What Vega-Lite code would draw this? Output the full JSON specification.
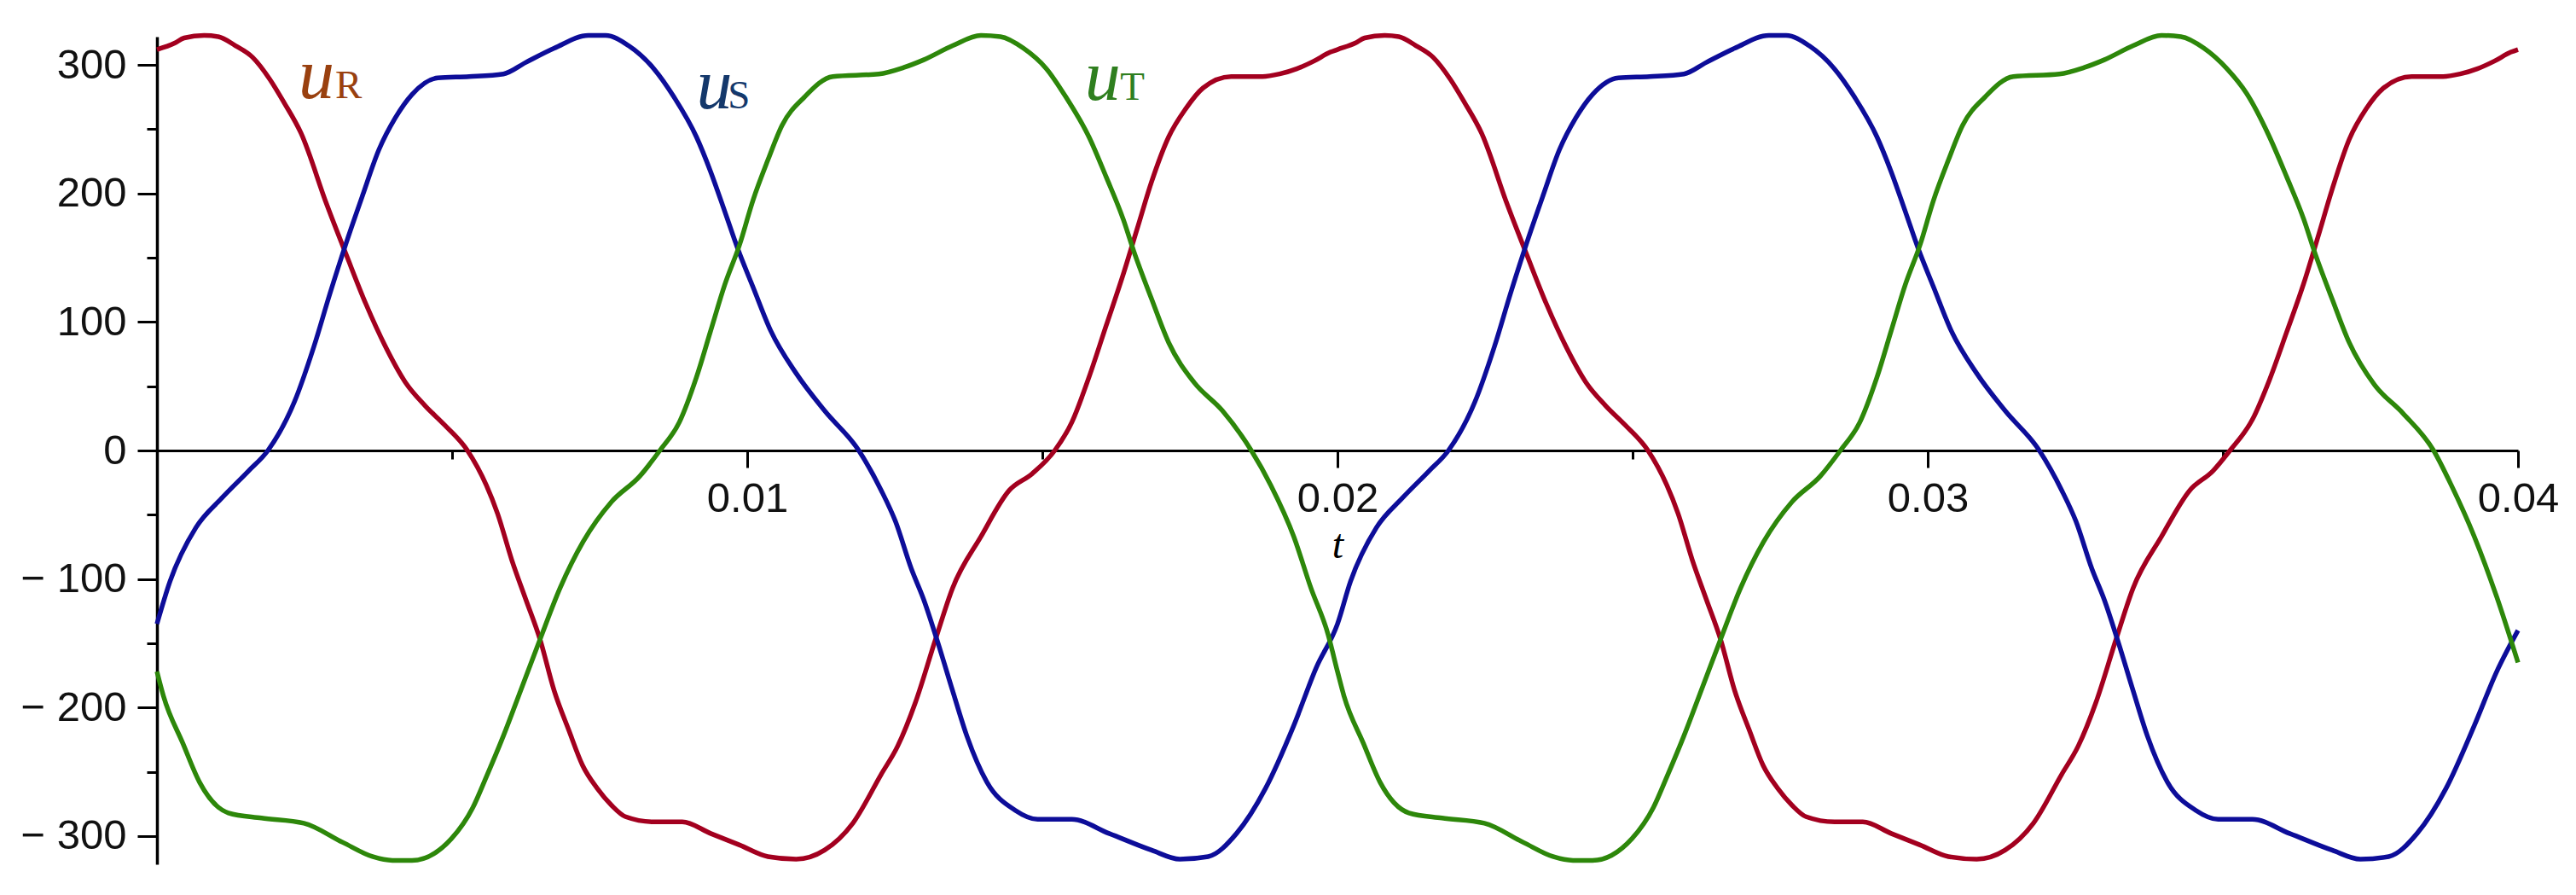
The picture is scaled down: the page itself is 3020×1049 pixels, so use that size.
{
  "$schema": "https://vega.github.io/schema/vega-lite/v6.json",
  "width": 2768,
  "height": 970,
  "autosize": {"type": "none"},
  "padding": {"left": 184, "top": 43, "right": 68, "bottom": 36},
  "background": "white",
  "config": {"view": {"stroke": null}},
  "datasets": {
    "waves": [
      {"t": 0, "u": 312, "p": "R"}, {"t": 0.0003, "u": 317, "p": "R"}, {"t": 0.00046, "u": 321, "p": "R"}, {"t": 0.0008, "u": 323, "p": "R"},
      {"t": 0.00104, "u": 322, "p": "R"}, {"t": 0.00133, "u": 315, "p": "R"}, {"t": 0.00162, "u": 306, "p": "R"}, {"t": 0.00191, "u": 289, "p": "R"},
      {"t": 0.00215, "u": 271, "p": "R"}, {"t": 0.00244, "u": 247, "p": "R"},
      {"t": 0.00288, "u": 191, "p": "R"}, {"t": 0.00321, "u": 152, "p": "R"}, {"t": 0.00354, "u": 114, "p": "R"}, {"t": 0.00387, "u": 81, "p": "R"},
      {"t": 0.00421, "u": 53, "p": "R"}, {"t": 0.00454, "u": 35, "p": "R"}, {"t": 0.00487, "u": 20, "p": "R"}, {"t": 0.00526, "u": 0, "p": "R"},
      {"t": 0.00558, "u": -27, "p": "R"}, {"t": 0.00577, "u": -49, "p": "R"}, {"t": 0.00601, "u": -85, "p": "R"}, {"t": 0.00625, "u": -116, "p": "R"},
      {"t": 0.00649, "u": -147, "p": "R"}, {"t": 0.00673, "u": -187, "p": "R"}, {"t": 0.00698, "u": -218, "p": "R"}, {"t": 0.00721, "u": -245, "p": "R"},
      {"t": 0.00746, "u": -263, "p": "R"}, {"t": 0.0077, "u": -276, "p": "R"}, {"t": 0.00794, "u": -285, "p": "R"}, {"t": 0.00842, "u": -289, "p": "R"},
      {"t": 0.0089, "u": -289, "p": "R"}, {"t": 0.00938, "u": -298, "p": "R"}, {"t": 0.00987, "u": -307, "p": "R"}, {"t": 0.01035, "u": -316, "p": "R"},
      {"t": 0.01083, "u": -318, "p": "R"}, {"t": 0.01131, "u": -311, "p": "R"}, {"t": 0.01179, "u": -290, "p": "R"}, {"t": 0.01227, "u": -252, "p": "R"},
      {"t": 0.01255, "u": -230, "p": "R"}, {"t": 0.01285, "u": -196, "p": "R"}, {"t": 0.01319, "u": -147, "p": "R"}, {"t": 0.01348, "u": -107, "p": "R"},
      {"t": 0.01396, "u": -67, "p": "R"}, {"t": 0.01444, "u": -31, "p": "R"}, {"t": 0.01483, "u": -18, "p": "R"}, {"t": 0.01521, "u": 0, "p": "R"},
      {"t": 0.0155, "u": 22, "p": "R"}, {"t": 0.01579, "u": 57, "p": "R"}, {"t": 0.01608, "u": 97, "p": "R"}, {"t": 0.01637, "u": 137, "p": "R"},
      {"t": 0.01661, "u": 173, "p": "R"}, {"t": 0.01685, "u": 209, "p": "R"}, {"t": 0.01714, "u": 244, "p": "R"}, {"t": 0.01743, "u": 266, "p": "R"},
      {"t": 0.01772, "u": 282, "p": "R"}, {"t": 0.0182, "u": 291, "p": "R"}, {"t": 0.01873, "u": 291, "p": "R"}, {"t": 0.01902, "u": 293, "p": "R"},
      {"t": 0.01931, "u": 297, "p": "R"}, {"t": 0.0196, "u": 303, "p": "R"}, {"t": 0.01988, "u": 310, "p": "R"},
      {"t": 0.02, "u": 312, "p": "R"}, {"t": 0.0203, "u": 317, "p": "R"}, {"t": 0.02046, "u": 321, "p": "R"}, {"t": 0.0208, "u": 323, "p": "R"},
      {"t": 0.02104, "u": 322, "p": "R"}, {"t": 0.02133, "u": 315, "p": "R"}, {"t": 0.02162, "u": 306, "p": "R"}, {"t": 0.02191, "u": 289, "p": "R"},
      {"t": 0.02215, "u": 271, "p": "R"}, {"t": 0.02244, "u": 247, "p": "R"},
      {"t": 0.02288, "u": 191, "p": "R"}, {"t": 0.02321, "u": 152, "p": "R"}, {"t": 0.02354, "u": 114, "p": "R"}, {"t": 0.02387, "u": 81, "p": "R"},
      {"t": 0.02421, "u": 53, "p": "R"}, {"t": 0.02454, "u": 35, "p": "R"}, {"t": 0.02487, "u": 20, "p": "R"}, {"t": 0.02526, "u": 0, "p": "R"},
      {"t": 0.02558, "u": -27, "p": "R"}, {"t": 0.02577, "u": -49, "p": "R"}, {"t": 0.02601, "u": -85, "p": "R"}, {"t": 0.02625, "u": -116, "p": "R"},
      {"t": 0.02649, "u": -147, "p": "R"}, {"t": 0.02673, "u": -187, "p": "R"}, {"t": 0.02698, "u": -218, "p": "R"}, {"t": 0.02721, "u": -245, "p": "R"},
      {"t": 0.02746, "u": -263, "p": "R"}, {"t": 0.0277, "u": -276, "p": "R"}, {"t": 0.02794, "u": -285, "p": "R"}, {"t": 0.02842, "u": -289, "p": "R"},
      {"t": 0.0289, "u": -289, "p": "R"}, {"t": 0.02938, "u": -298, "p": "R"}, {"t": 0.02987, "u": -307, "p": "R"}, {"t": 0.03035, "u": -316, "p": "R"},
      {"t": 0.03083, "u": -318, "p": "R"}, {"t": 0.03131, "u": -311, "p": "R"}, {"t": 0.03179, "u": -290, "p": "R"}, {"t": 0.03227, "u": -252, "p": "R"},
      {"t": 0.03255, "u": -230, "p": "R"}, {"t": 0.03285, "u": -196, "p": "R"}, {"t": 0.03319, "u": -147, "p": "R"}, {"t": 0.03348, "u": -107, "p": "R"},
      {"t": 0.03396, "u": -67, "p": "R"}, {"t": 0.03444, "u": -31, "p": "R"}, {"t": 0.03483, "u": -16, "p": "R"}, {"t": 0.03512, "u": 0, "p": "R"},
      {"t": 0.0355, "u": 24, "p": "R"}, {"t": 0.03579, "u": 55, "p": "R"}, {"t": 0.03608, "u": 92, "p": "R"}, {"t": 0.03637, "u": 130, "p": "R"},
      {"t": 0.03661, "u": 166, "p": "R"}, {"t": 0.03685, "u": 203, "p": "R"}, {"t": 0.03714, "u": 242, "p": "R"}, {"t": 0.03743, "u": 266, "p": "R"},
      {"t": 0.03772, "u": 282, "p": "R"}, {"t": 0.0382, "u": 291, "p": "R"}, {"t": 0.03873, "u": 291, "p": "R"}, {"t": 0.03902, "u": 293, "p": "R"},
      {"t": 0.03931, "u": 297, "p": "R"}, {"t": 0.0396, "u": 303, "p": "R"}, {"t": 0.03988, "u": 310, "p": "R"}, {"t": 0.04, "u": 312, "p": "R"},

      {"t": 0, "u": -135, "p": "S"}, {"t": 0.00022, "u": -102, "p": "S"}, {"t": 0.00066, "u": -60, "p": "S"}, {"t": 0.0011, "u": -37, "p": "S"},
      {"t": 0.00155, "u": -16, "p": "S"}, {"t": 0.00188, "u": 0, "p": "S"}, {"t": 0.00233, "u": 38, "p": "S"}, {"t": 0.00266, "u": 81, "p": "S"},
      {"t": 0.00293, "u": 122, "p": "S"}, {"t": 0.00321, "u": 162, "p": "S"}, {"t": 0.00348, "u": 198, "p": "S"}, {"t": 0.00376, "u": 234, "p": "S"},
      {"t": 0.00404, "u": 259, "p": "S"}, {"t": 0.00432, "u": 277, "p": "S"}, {"t": 0.00476, "u": 290, "p": "S"}, {"t": 0.00529, "u": 291, "p": "S"},
      {"t": 0.00587, "u": 293, "p": "S"}, {"t": 0.00625, "u": 302, "p": "S"}, {"t": 0.00673, "u": 313, "p": "S"}, {"t": 0.00731, "u": 323, "p": "S"},
      {"t": 0.0076, "u": 323, "p": "S"}, {"t": 0.00799, "u": 315, "p": "S"}, {"t": 0.00842, "u": 297, "p": "S"}, {"t": 0.00876, "u": 275, "p": "S"},
      {"t": 0.00914, "u": 244, "p": "S"}, {"t": 0.00938, "u": 217, "p": "S"}, {"t": 0.00962, "u": 186, "p": "S"}, {"t": 0.00984, "u": 157, "p": "S"},
      {"t": 0.0101, "u": 127, "p": "S"}, {"t": 0.0104, "u": 93, "p": "S"}, {"t": 0.01083, "u": 60, "p": "S"}, {"t": 0.01131, "u": 31, "p": "S"},
      {"t": 0.01189, "u": 0, "p": "S"}, {"t": 0.01227, "u": -31, "p": "S"}, {"t": 0.01251, "u": -55, "p": "S"}, {"t": 0.01278, "u": -92, "p": "S"},
      {"t": 0.01299, "u": -116, "p": "S"}, {"t": 0.01324, "u": -151, "p": "S"}, {"t": 0.01348, "u": -187, "p": "S"}, {"t": 0.01372, "u": -222, "p": "S"},
      {"t": 0.01406, "u": -258, "p": "S"}, {"t": 0.01454, "u": -280, "p": "S"}, {"t": 0.01492, "u": -287, "p": "S"}, {"t": 0.0155, "u": -287, "p": "S"},
      {"t": 0.01613, "u": -298, "p": "S"}, {"t": 0.01685, "u": -311, "p": "S"}, {"t": 0.01733, "u": -318, "p": "S"}, {"t": 0.01781, "u": -316, "p": "S"},
      {"t": 0.01829, "u": -298, "p": "S"}, {"t": 0.01878, "u": -263, "p": "S"}, {"t": 0.01926, "u": -214, "p": "S"}, {"t": 0.01964, "u": -169, "p": "S"},
      {"t": 0.02, "u": -135, "p": "S"}, {"t": 0.02022, "u": -102, "p": "S"}, {"t": 0.02066, "u": -60, "p": "S"}, {"t": 0.0211, "u": -37, "p": "S"},
      {"t": 0.02155, "u": -16, "p": "S"}, {"t": 0.02188, "u": 0, "p": "S"}, {"t": 0.02233, "u": 38, "p": "S"}, {"t": 0.02266, "u": 81, "p": "S"},
      {"t": 0.02293, "u": 122, "p": "S"}, {"t": 0.02321, "u": 162, "p": "S"}, {"t": 0.02348, "u": 198, "p": "S"}, {"t": 0.02376, "u": 234, "p": "S"},
      {"t": 0.02404, "u": 259, "p": "S"}, {"t": 0.02432, "u": 277, "p": "S"}, {"t": 0.02476, "u": 290, "p": "S"}, {"t": 0.02529, "u": 291, "p": "S"},
      {"t": 0.02587, "u": 293, "p": "S"}, {"t": 0.02625, "u": 302, "p": "S"}, {"t": 0.02673, "u": 313, "p": "S"}, {"t": 0.02731, "u": 323, "p": "S"},
      {"t": 0.0276, "u": 323, "p": "S"}, {"t": 0.02799, "u": 315, "p": "S"}, {"t": 0.02842, "u": 297, "p": "S"}, {"t": 0.02876, "u": 275, "p": "S"},
      {"t": 0.02914, "u": 244, "p": "S"}, {"t": 0.02938, "u": 217, "p": "S"}, {"t": 0.02962, "u": 186, "p": "S"}, {"t": 0.02984, "u": 157, "p": "S"},
      {"t": 0.0301, "u": 127, "p": "S"}, {"t": 0.0304, "u": 93, "p": "S"}, {"t": 0.03083, "u": 60, "p": "S"}, {"t": 0.03131, "u": 31, "p": "S"},
      {"t": 0.03189, "u": 0, "p": "S"}, {"t": 0.03227, "u": -31, "p": "S"}, {"t": 0.03251, "u": -55, "p": "S"}, {"t": 0.03278, "u": -92, "p": "S"},
      {"t": 0.03299, "u": -116, "p": "S"}, {"t": 0.03324, "u": -151, "p": "S"}, {"t": 0.03348, "u": -187, "p": "S"}, {"t": 0.03372, "u": -222, "p": "S"},
      {"t": 0.03406, "u": -258, "p": "S"}, {"t": 0.03454, "u": -280, "p": "S"}, {"t": 0.03492, "u": -287, "p": "S"}, {"t": 0.0355, "u": -287, "p": "S"},
      {"t": 0.03613, "u": -298, "p": "S"}, {"t": 0.03685, "u": -311, "p": "S"}, {"t": 0.03733, "u": -318, "p": "S"}, {"t": 0.03781, "u": -316, "p": "S"},
      {"t": 0.03829, "u": -298, "p": "S"}, {"t": 0.03878, "u": -263, "p": "S"}, {"t": 0.03926, "u": -214, "p": "S"}, {"t": 0.03964, "u": -172, "p": "S"},
      {"t": 0.04, "u": -140, "p": "S"},

      {"t": 0, "u": -172, "p": "T"}, {"t": 0.00011, "u": -191, "p": "T"}, {"t": 0.00044, "u": -228, "p": "T"}, {"t": 0.00072, "u": -258, "p": "T"},
      {"t": 0.00121, "u": -282, "p": "T"}, {"t": 0.00177, "u": -286, "p": "T"}, {"t": 0.00249, "u": -290, "p": "T"}, {"t": 0.00315, "u": -305, "p": "T"},
      {"t": 0.00365, "u": -316, "p": "T"}, {"t": 0.00399, "u": -319, "p": "T"}, {"t": 0.00432, "u": -319, "p": "T"}, {"t": 0.00499, "u": -302, "p": "T"},
      {"t": 0.00535, "u": -278, "p": "T"}, {"t": 0.00558, "u": -254, "p": "T"}, {"t": 0.00587, "u": -222, "p": "T"}, {"t": 0.00616, "u": -187, "p": "T"},
      {"t": 0.00649, "u": -147, "p": "T"}, {"t": 0.00683, "u": -107, "p": "T"}, {"t": 0.00722, "u": -71, "p": "T"}, {"t": 0.0077, "u": -40, "p": "T"},
      {"t": 0.00818, "u": -20, "p": "T"}, {"t": 0.00852, "u": 0, "p": "T"}, {"t": 0.00885, "u": 22, "p": "T"}, {"t": 0.00914, "u": 57, "p": "T"},
      {"t": 0.00938, "u": 93, "p": "T"}, {"t": 0.00962, "u": 129, "p": "T"}, {"t": 0.00987, "u": 160, "p": "T"}, {"t": 0.0101, "u": 195, "p": "T"},
      {"t": 0.01035, "u": 226, "p": "T"}, {"t": 0.01059, "u": 253, "p": "T"}, {"t": 0.01097, "u": 275, "p": "T"}, {"t": 0.01145, "u": 291, "p": "T"},
      {"t": 0.01223, "u": 293, "p": "T"}, {"t": 0.01265, "u": 298, "p": "T"}, {"t": 0.01299, "u": 304, "p": "T"}, {"t": 0.01348, "u": 315, "p": "T"},
      {"t": 0.01396, "u": 323, "p": "T"}, {"t": 0.01429, "u": 322, "p": "T"}, {"t": 0.01468, "u": 313, "p": "T"}, {"t": 0.01507, "u": 297, "p": "T"},
      {"t": 0.0154, "u": 275, "p": "T"}, {"t": 0.01579, "u": 244, "p": "T"}, {"t": 0.01608, "u": 213, "p": "T"}, {"t": 0.01637, "u": 180, "p": "T"},
      {"t": 0.01655, "u": 155, "p": "T"}, {"t": 0.01685, "u": 118, "p": "T"}, {"t": 0.01714, "u": 84, "p": "T"}, {"t": 0.01757, "u": 53, "p": "T"},
      {"t": 0.01805, "u": 31, "p": "T"}, {"t": 0.01854, "u": 0, "p": "T"}, {"t": 0.01887, "u": -27, "p": "T"}, {"t": 0.01926, "u": -67, "p": "T"},
      {"t": 0.01955, "u": -107, "p": "T"}, {"t": 0.01984, "u": -143, "p": "T"},
      {"t": 0.02, "u": -172, "p": "T"}, {"t": 0.02011, "u": -191, "p": "T"}, {"t": 0.02044, "u": -228, "p": "T"}, {"t": 0.02072, "u": -258, "p": "T"},
      {"t": 0.02121, "u": -282, "p": "T"}, {"t": 0.02177, "u": -286, "p": "T"}, {"t": 0.02249, "u": -290, "p": "T"}, {"t": 0.02315, "u": -305, "p": "T"},
      {"t": 0.02365, "u": -316, "p": "T"}, {"t": 0.02399, "u": -319, "p": "T"}, {"t": 0.02432, "u": -319, "p": "T"}, {"t": 0.02499, "u": -302, "p": "T"},
      {"t": 0.02535, "u": -278, "p": "T"}, {"t": 0.02558, "u": -254, "p": "T"}, {"t": 0.02587, "u": -222, "p": "T"}, {"t": 0.02616, "u": -187, "p": "T"},
      {"t": 0.02649, "u": -147, "p": "T"}, {"t": 0.02683, "u": -107, "p": "T"}, {"t": 0.02722, "u": -71, "p": "T"}, {"t": 0.0277, "u": -40, "p": "T"},
      {"t": 0.02818, "u": -20, "p": "T"}, {"t": 0.02852, "u": 0, "p": "T"}, {"t": 0.02885, "u": 22, "p": "T"}, {"t": 0.02914, "u": 57, "p": "T"},
      {"t": 0.02938, "u": 93, "p": "T"}, {"t": 0.02962, "u": 129, "p": "T"}, {"t": 0.02987, "u": 160, "p": "T"}, {"t": 0.0301, "u": 195, "p": "T"},
      {"t": 0.03035, "u": 226, "p": "T"}, {"t": 0.03059, "u": 253, "p": "T"}, {"t": 0.03097, "u": 275, "p": "T"}, {"t": 0.03145, "u": 291, "p": "T"},
      {"t": 0.03223, "u": 293, "p": "T"}, {"t": 0.03265, "u": 298, "p": "T"}, {"t": 0.03299, "u": 304, "p": "T"}, {"t": 0.03348, "u": 315, "p": "T"},
      {"t": 0.03396, "u": 323, "p": "T"}, {"t": 0.03429, "u": 322, "p": "T"}, {"t": 0.03468, "u": 313, "p": "T"}, {"t": 0.03507, "u": 297, "p": "T"},
      {"t": 0.0354, "u": 278, "p": "T"}, {"t": 0.03579, "u": 244, "p": "T"}, {"t": 0.03608, "u": 213, "p": "T"}, {"t": 0.03637, "u": 180, "p": "T"},
      {"t": 0.03655, "u": 155, "p": "T"}, {"t": 0.03685, "u": 118, "p": "T"}, {"t": 0.03714, "u": 84, "p": "T"}, {"t": 0.03757, "u": 51, "p": "T"},
      {"t": 0.03805, "u": 29, "p": "T"}, {"t": 0.03857, "u": 0, "p": "T"}, {"t": 0.03887, "u": -27, "p": "T"}, {"t": 0.03926, "u": -67, "p": "T"},
      {"t": 0.03964, "u": -114, "p": "T"}, {"t": 0.04, "u": -165, "p": "T"}
    ],
    "uglyph": [
      {"lab": "R", "t": 0.0024, "u": 274},
      {"lab": "S", "t": 0.00914, "u": 266},
      {"lab": "T", "t": 0.01572, "u": 273}
    ],
    "subs": [
      {"lab": "R", "t": 0.00302, "u": 274},
      {"lab": "S", "t": 0.00967, "u": 266},
      {"lab": "T", "t": 0.01632, "u": 273}
    ]
  },
  "layer": [
    {
      "data": {"name": "waves"},
      "mark": {"type": "line", "interpolate": "monotone", "strokeWidth": 5.5},
      "encoding": {
        "x": {
          "field": "t",
          "type": "quantitative",
          "scale": {"domain": [0, 0.04], "nice": false, "zero": false},
          "axis": {
            "orient": "bottom",
            "offset": -485,
            "values": [0.005, 0.01, 0.015, 0.02, 0.025, 0.03, 0.035, 0.04],
            "labelExpr": "round(datum.value * 1000) % 10 === 0 ? format(datum.value, '.2f') : ''",
            "tickSize": {"condition": {"test": "round(datum.value * 1000) % 10 === 0", "value": 20}, "value": 10},
            "tickWidth": 3,
            "tickColor": "black",
            "domainColor": "black",
            "domainWidth": 3,
            "grid": false,
            "labelFont": "Liberation Sans",
            "labelFontSize": 49,
            "labelColor": "#111111",
            "labelPadding": 12,
            "labelOverlap": false,
            "labelFlush": false,
            "labelBound": false,
            "title": "t",
            "titleFont": "Liberation Serif",
            "titleFontStyle": "italic",
            "titleFontWeight": "normal",
            "titleFontSize": 48,
            "titleColor": "black",
            "titlePadding": 6
          }
        },
        "y": {
          "field": "u",
          "type": "quantitative",
          "scale": {"domain": [-322, 322], "nice": false},
          "axis": {
            "values": [-300, -250, -200, -150, -100, -50, 0, 50, 100, 150, 200, 250, 300],
            "labelExpr": "datum.value % 100 === 0 ? (datum.value < 0 ? '\u2212 ' + abs(datum.value) : '' + datum.value) : ''",
            "tickSize": {"condition": {"test": "datum.value % 100 === 0", "value": 23}, "value": 12},
            "tickWidth": 3,
            "tickColor": "black",
            "domainColor": "black",
            "domainWidth": 3.5,
            "grid": false,
            "labelFont": "Liberation Sans",
            "labelFontSize": 49,
            "labelColor": "#111111",
            "labelPadding": 13,
            "labelOverlap": false,
            "labelFlush": false,
            "labelBound": false,
            "title": null
          }
        },
        "color": {
          "field": "p",
          "type": "nominal",
          "scale": {"domain": ["R", "S", "T"], "range": ["#A3001F", "#0D0D99", "#2D870A"]},
          "legend": null
        }
      }
    },
    {
      "data": {"name": "uglyph"},
      "mark": {"type": "text", "font": "Liberation Serif", "fontStyle": "italic", "fontSize": 84, "align": "left", "baseline": "alphabetic"},
      "encoding": {
        "x": {"field": "t", "type": "quantitative"},
        "y": {"field": "u", "type": "quantitative"},
        "text": {"value": "u"},
        "color": {
          "field": "lab",
          "type": "nominal",
          "scale": {"domain": ["R", "S", "T"], "range": ["#99400F", "#14386B", "#2F7F1F"]},
          "legend": null
        }
      }
    },
    {
      "data": {"name": "subs"},
      "mark": {"type": "text", "font": "Liberation Serif", "fontSize": 47, "align": "left", "baseline": "alphabetic"},
      "encoding": {
        "x": {"field": "t", "type": "quantitative"},
        "y": {"field": "u", "type": "quantitative"},
        "text": {"field": "lab"},
        "color": {
          "field": "lab",
          "type": "nominal",
          "scale": {"domain": ["R", "S", "T"], "range": ["#99400F", "#14386B", "#2F7F1F"]},
          "legend": null
        }
      }
    }
  ],
  "resolve": {"scale": {"color": "independent"}}
}
